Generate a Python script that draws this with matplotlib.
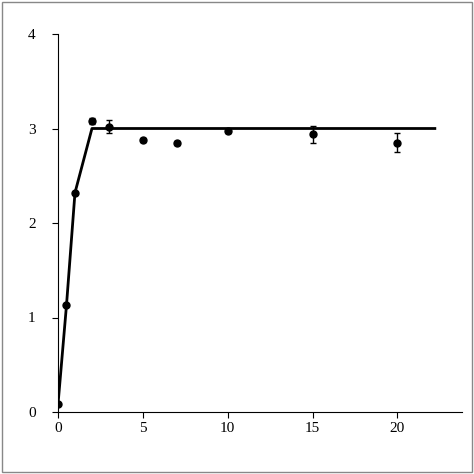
import numpy as np
import matplotlib
matplotlib.use('Agg')
import matplotlib.pyplot as plt
from matplotlib.patches import Rectangle

# measured points
t_pts = [0, 0.5, 1, 2, 3, 5, 7, 10, 15, 20]
y_pts = [0.08, 1.13, 2.32, 3.08, 3.02, 2.88, 2.85, 2.97, 2.94, 2.85]
y_err = [0, 0, 0, 0.03, 0.07, 0.02, 0.02, 0.02, 0.09, 0.10]

# model curve
t_fit = [0, 0.5, 1, 2.0, 22.2]
y_fit = [0.08, 1.13, 2.32, 3.0, 3.0]

plt.rcParams['font.family'] = ['Liberation Serif', 'DejaVu Serif']
fig = plt.figure(figsize=(4.74, 4.74), dpi=100)
fig.patches.append(Rectangle((0.004, 0.004), 0.992, 0.992, transform=fig.transFigure,
                             fill=False, edgecolor='#888888', linewidth=1))
ax = fig.add_axes([58/474, 62/474, 404/474, 378/474])
ax.plot(t_fit, y_fit, color='black', linewidth=2)
ax.errorbar(t_pts, y_pts, yerr=y_err, fmt='o', color='black', markersize=5,
            capsize=2, elinewidth=1)
ax.set_xlim(0, 23.8)
ax.set_ylim(0, 4)
ax.set_xticks([0, 5, 10, 15, 20])
ax.set_yticks([0, 1, 2, 3, 4])
ax.spines['top'].set_visible(False)
ax.spines['right'].set_visible(False)
ax.tick_params(direction='out', length=4, labelsize=11)
ax.tick_params(axis='y', pad=12)
fig.savefig('out.png', dpi=100)
